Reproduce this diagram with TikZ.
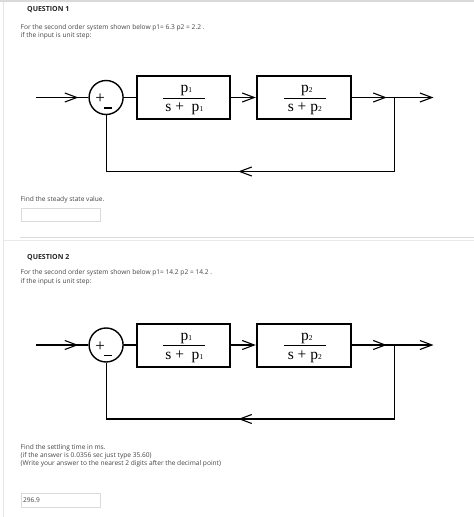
\documentclass[tikz,border=0pt]{standalone}
\usepackage{fontspec}
\setmainfont{Open Sans}
\newfontfamily\blkfont{Liberation Serif}
\usetikzlibrary{arrows.meta,calc,positioning}
\definecolor{qtext}{RGB}{68,68,68}
\definecolor{qrule}{RGB}{218,218,218}
\newcommand{\pidx}[1]{{\fontsize{7.5}{7.5}\selectfont#1}}

\begin{document}
\begin{tikzpicture}[x=1pt,y=-1pt,>={Straight Barb[length=12pt,width=9pt]},
  blk/.style={draw,line width=2pt,minimum width=93pt,minimum height=43pt,inner sep=0pt},
  sumpt/.style={draw,circle,line width=1.4pt,minimum size=34pt,inner sep=0pt},
  fracbar/.style={fill,minimum width=42pt,minimum height=0.9pt,inner sep=0pt},
  frac/.style={font=\blkfont\fontsize{15.5}{16}\selectfont,inner sep=0pt},
  wire/.style={line width=1.1pt},
  qtxt/.style={anchor=west,inner sep=0pt,text=qtext,font=\fontsize{6.6}{7}\selectfont},
  qhead/.style={anchor=west,inner sep=0pt,text=black!85,font=\bfseries\fontsize{7}{8}\selectfont},
  ansbox/.style={draw=qrule,line width=0.8pt,anchor=north west,minimum width=79pt,minimum height=13.5pt,inner sep=2pt,text width=75pt,align=left,text=qtext,font=\fontsize{6.6}{7}\selectfont}]
\useasboundingbox (0,0) rectangle (474,517);
\draw[qrule,line width=2.5pt] (0,1.2) -- (474,1.2);
\draw[qrule!70,line width=0.8pt] (3.5,2) -- (3.5,517);
\draw[qrule,line width=1.3pt] (20,237.7) -- (474,237.7);
\draw[qrule!60,line width=0.8pt] (3.5,240.5) -- (474,240.5);

\node[qhead] (q1head) at (27,9.5) {QUESTION 1};
\node[qtxt] (q1text) at (20.5,27.5) {For the second order system shown below p1= 6.3 p2 = 2.2 .};
\node[qtxt] (q1step) at (20.5,36) {if the input is unit step:};
\node[qtxt] (q1ask) at (20.5,200) {Find the steady state value.};
\node[ansbox] (ans1) at (20.7,207.7) {};
\node[qhead] (q2head) at (27,258) {QUESTION 2};
\node[qtxt] (q2text) at (20.5,273) {For the second order system shown below p1= 14.2 p2 = 14.2 .};
\node[qtxt] (q2step) at (20.5,282) {if the input is unit step:};
\node[qtxt] (q2ask) at (20.5,448) {Find the settling time in ms.};
\node[qtxt] (q2hint) at (20.5,456) {(if the answer is 0.0356 sec just type 35.60)};
\node[qtxt] (q2note) at (20.5,464) {(Write your answer to the nearest 2 digits after the decimal point)};
\node[ansbox] (ans2) at (20.7,493.3) {296.9};

\foreach \q/\dy in {1/0,2/247.5}{
\begin{scope}[shift={(0,\dy)}]
\node[blk] (ga\q) at (183.3,97.5) {};
\node[blk,right=25pt of ga\q,minimum width=94pt] (gb\q) {};
\node[sumpt,left=12pt of ga\q] (sum\q) {};
\node[frac,font=\blkfont\fontsize{17}{17}\selectfont] (plus\q) at ([xshift=-6pt,yshift=-1.5pt]sum\q.center) {+};
\node[fill,minimum width=8.5pt,minimum height=1.3pt,inner sep=0pt] (minus\q) at ([xshift=1.7pt,yshift=-10.5pt]sum\q.center) {};
\node[fracbar] (bara\q) at ([xshift=1pt,yshift=-0.8pt]ga\q.center) {};
\node[frac,above=1.5pt of bara\q,xshift=2pt] (numa\q) {p\pidx{1}};
\node[frac,below=4pt of bara\q] (dena\q) {s +\ \ p\pidx{1}};
\node[fracbar] (barb\q) at ([xshift=1pt,yshift=-0.8pt]gb\q.center) {};
\node[frac,above=1.5pt of barb\q,xshift=2pt] (numb\q) {p\pidx{2}};
\node[frac,below=4pt of barb\q] (denb\q) {s + p\pidx{2}};
\coordinate[left=52pt of sum\q] (in\q);
\coordinate[right=43pt of gb\q.east] (br\q);
\coordinate[right=81.7pt of gb\q.east] (out\q);
\coordinate[below=74pt of br\q] (fb\q);
\coordinate[left=156.6pt of fb\q] (fbm\q);
\draw[wire] (in\q) -- (sum\q.west);
\draw[wire,->] (in\q) -- ([xshift=-10pt]sum\q.west);
\draw[wire] (sum\q.east) -- (ga\q.west);
\draw[wire,->] (ga\q.east) -- (gb\q.west);
\draw[wire,->] (gb\q.east) -- (out\q);
\draw[wire,->] (gb\q.east) -- ([xshift=-8pt]br\q);
\draw[wire] (br\q) -- (fb\q) -| (sum\q.south);
\draw[wire,->] (fb\q) -- (fbm\q);
\end{scope}}
\end{tikzpicture}
\end{document}
